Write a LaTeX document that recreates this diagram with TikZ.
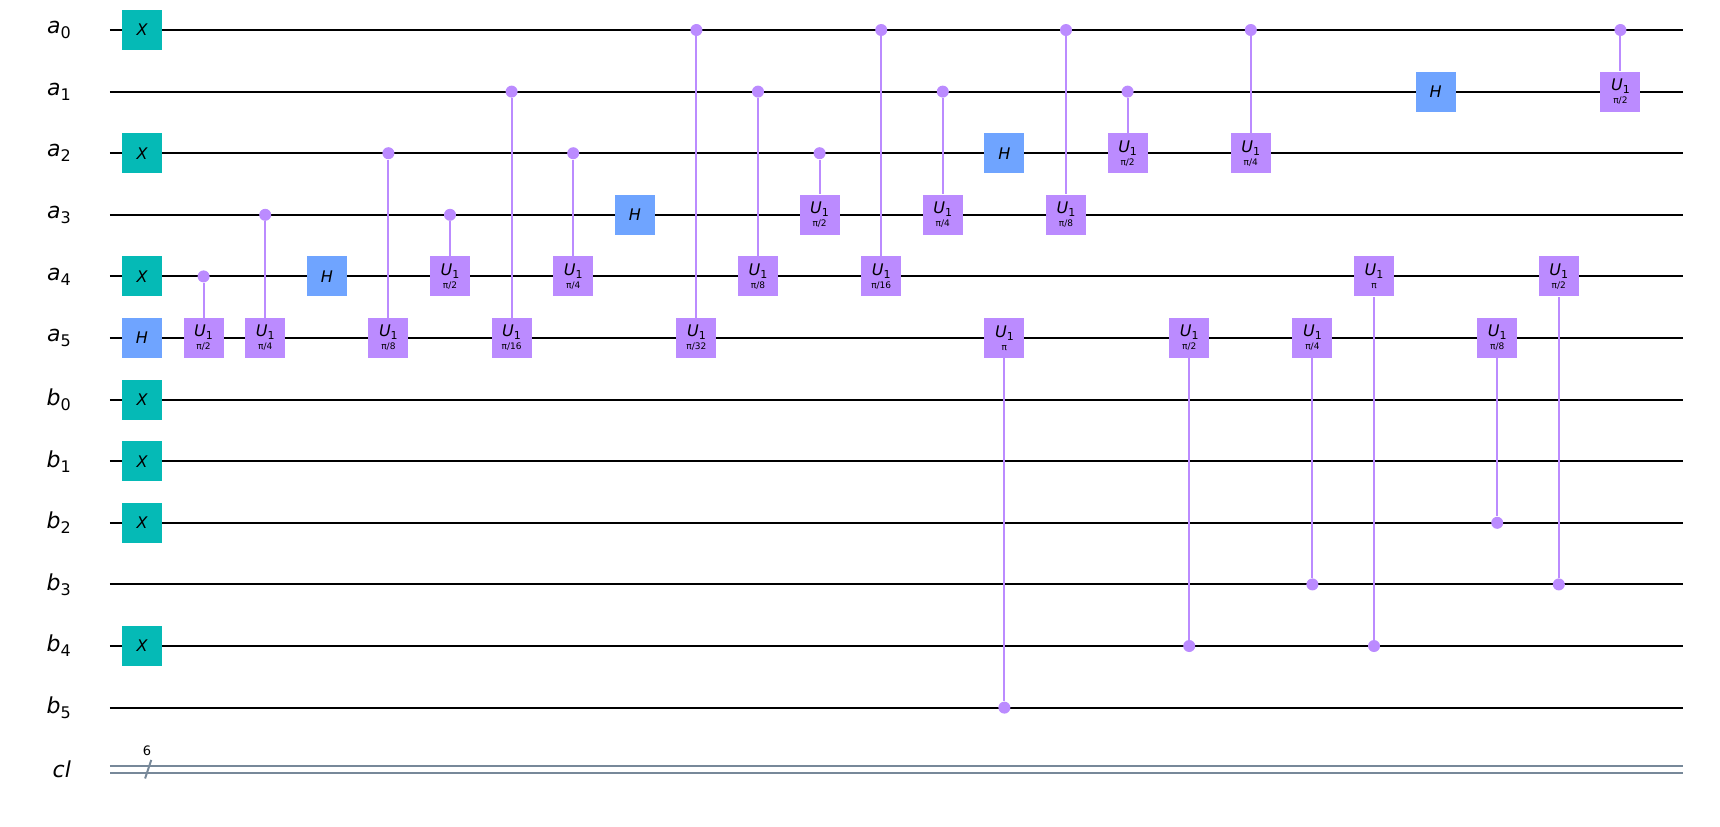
\documentclass[tikz,border=0pt]{standalone}
\usepackage{fontspec}
\setmainfont{DejaVu Sans}
\definecolor{xcol}{HTML}{05BAB6}
\definecolor{hcol}{HTML}{6FA4FF}
\definecolor{ucol}{HTML}{BB8BFF}
\definecolor{ccol}{HTML}{778899}
\tikzset{
  gbox/.style={minimum width=20pt,minimum height=20pt,inner sep=0pt,font=\fontsize{8}{8}\selectfont\itshape},
  xg/.style={gbox,fill=xcol},
  hg/.style={gbox,fill=hcol},
  ug/.style={gbox,fill=ucol,align=center,font=\fontsize{8}{8}\selectfont},
  ctl/.style={circle,fill=ucol,minimum size=6pt,inner sep=0pt},
  cline/.style={ucol,line width=1pt},
  wire/.style={line width=1pt},
  wl/.style={anchor=east,font=\fontsize{11}{11}\selectfont\itshape}
}
\newcommand{\ulab}[1]{{\itshape U}\raisebox{-1.5pt}{\fontsize{5.5}{5.5}\selectfont 1}\\[-1.5pt]{\fontsize{4.5}{4.5}\selectfont #1}}
\newcommand{\wlab}[2]{#1\raisebox{-2.5pt}{\fontsize{8}{8}\selectfont\upshape #2}}
\newcommand{\cug}[5]{% name, col, ctrl row, target row, label
  \node[ug] (#1u) at (#2,#4) {\ulab{#5}};
  \node[ctl] (#1c) at (#2,#3) {};
  \draw[cline] (#1c) -- (#1u);
}
\begin{document}
\begin{tikzpicture}[x=30.8pt,y=-30.8pt]
\useasboundingbox (-2.305,-0.487) rectangle (25.617,12.938);
% wires
\foreach \r/\l/\s in {0/a/0,1/a/1,2/a/2,3/a/3,4/a/4,5/a/5,6/b/0,7/b/1,8/b/2,9/b/3,10/b/4,11/b/5}{
  \node[wl] (lab\l\s) at (-1.04,\r) {\wlab{\l}{\s}};
  \coordinate (ws\l\s) at (-0.52,\r);
  \coordinate (we\l\s) at (25.02,\r);
  \draw[wire] (ws\l\s) -- (we\l\s);
}
\node[wl] (labcl) at (-1.04,12) {cl};
\coordinate (wscl) at (-0.52,12);
\coordinate (wecl) at (25.02,12);
\draw[ccol,line width=1pt,double=white,double distance=2.5pt] (wscl) -- (wecl);
\coordinate (sl1) at (0.05,12.15);
\coordinate (sl2) at (0.15,11.85);
\draw[ccol,line width=1pt] (sl1) -- (sl2);
\node[font=\fontsize{6.5}{6.5}\selectfont] (six) at (0.08,11.7) {6};
% column 0
\foreach \r in {0,2,4,6,7,8,10}{\node[xg] (x\r) at (0,\r) {X};}
\node[hg] (h0) at (0,5) {H};
\cug{g1}{1}{4}{5}{π/2}
\cug{g2}{2}{3}{5}{π/4}
\node[hg] (h1) at (3,4) {H};
\cug{g4}{4}{2}{5}{π/8}
\cug{g5}{5}{3}{4}{π/2}
\cug{g6}{6}{1}{5}{π/16}
\cug{g7}{7}{2}{4}{π/4}
\node[hg] (h2) at (8,3) {H};
\cug{g9}{9}{0}{5}{π/32}
\cug{g10}{10}{1}{4}{π/8}
\cug{g11}{11}{2}{3}{π/2}
\cug{g12}{12}{0}{4}{π/16}
\cug{g13}{13}{1}{3}{π/4}
\node[hg] (h3) at (14,2) {H};
\cug{g14}{14}{11}{5}{π}
\cug{g15}{15}{0}{3}{π/8}
\cug{g16}{16}{1}{2}{π/2}
\cug{g17}{17}{10}{5}{π/2}
\cug{g18}{18}{0}{2}{π/4}
\cug{g19}{19}{9}{5}{π/4}
\cug{g20}{20}{10}{4}{π}
\node[hg] (h4) at (21,1) {H};
\cug{g22}{22}{8}{5}{π/8}
\cug{g23}{23}{9}{4}{π/2}
\cug{g24}{24}{0}{1}{π/2}
\end{tikzpicture}
\end{document}
